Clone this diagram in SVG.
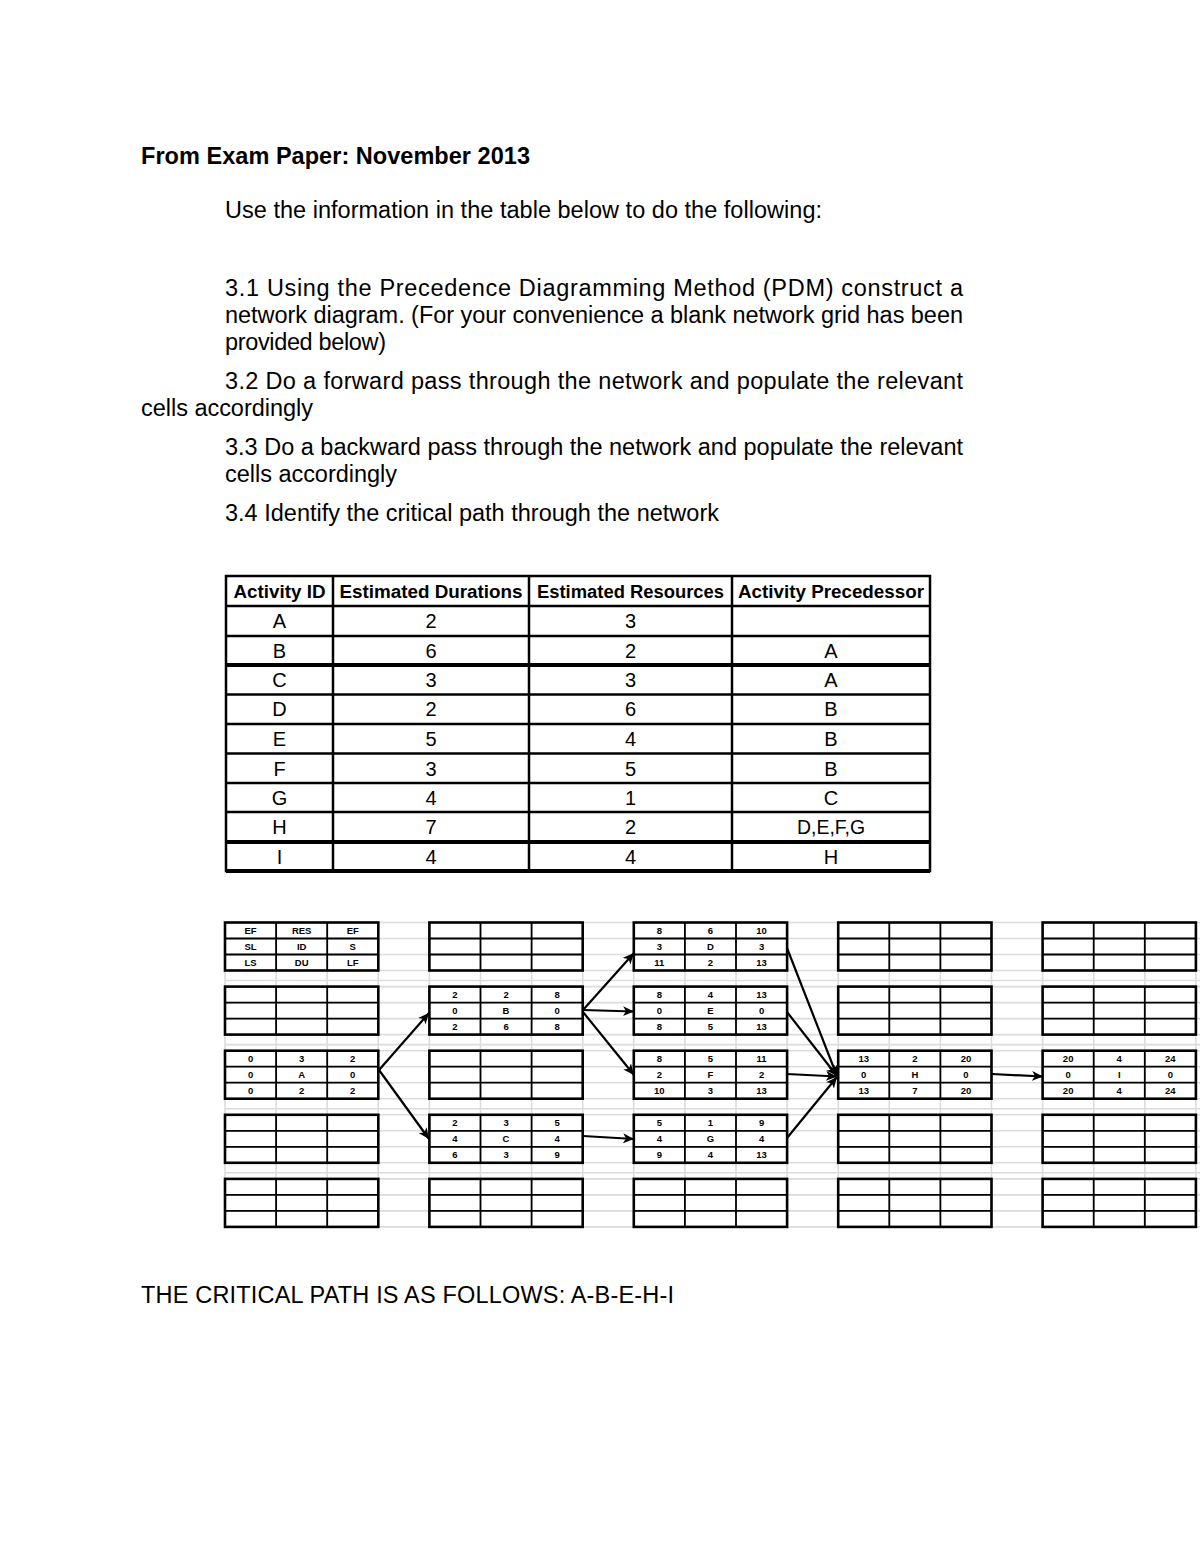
<svg xmlns="http://www.w3.org/2000/svg" xmlns:xlink="http://www.w3.org/1999/xlink" width="1200" height="1553" viewBox="0 0 1200 1553">
<style>
.t{font-family:"Liberation Sans",Arial,sans-serif;font-size:23.5px;fill:#000}
.tb{font-weight:bold}
.th{font-family:"Liberation Sans",Arial,sans-serif;font-size:18px;font-weight:bold;text-anchor:middle;fill:#000}
.td{font-family:"Liberation Sans",Arial,sans-serif;font-size:20px;text-anchor:middle;fill:#000}
.tl{stroke:#000;stroke-width:2.5;fill:none}
.tl2{stroke:#000;stroke-width:4;fill:none}
.bo{fill:none;stroke:#000;stroke-width:2.6}
.bi{fill:none;stroke:#000;stroke-width:1.8}
.grid{stroke:#dcdcdc;stroke-width:1.6;fill:none}
.c{font-family:"Liberation Sans",Arial,sans-serif;font-size:9.5px;font-weight:bold;text-anchor:middle;fill:#000}
.cn{stroke:#000;stroke-width:2.2;fill:none;marker-end:url(#ah)}
</style>
<defs>
<marker id="ah" markerUnits="userSpaceOnUse" markerWidth="12" markerHeight="10" refX="11" refY="5" orient="auto">
<path d="M0,0 L11,5 L0,10 L3,5 z" fill="#000"/>
</marker>
<g id="box">
<rect x="0" y="0" width="153.3" height="48" class="bo"/>
<path d="M51.1,0V48M102.2,0V48M0,16H153.3M0,32H153.3" class="bi"/>
</g>
</defs>
<rect width="1200" height="1553" fill="#fff"/>

<g id="intro">
<text class="t tb" x="141" y="164" textLength="389">From Exam Paper: November 2013</text>
<text class="t" x="225" y="218" textLength="597">Use the information in the table below to do the following:</text>
<text class="t" x="225" y="296" textLength="738">3.1 Using the Precedence Diagramming Method (PDM) construct a</text>
<text class="t" x="225" y="323" textLength="738">network diagram. (For your convenience a blank network grid has been</text>
<text class="t" x="225" y="350" textLength="161">provided below)</text>
<text class="t" x="225" y="389" textLength="738">3.2 Do a forward pass through the network and populate the relevant</text>
<text class="t" x="141" y="416" textLength="172">cells accordingly</text>
<text class="t" x="225" y="455" textLength="738">3.3 Do a backward pass through the network and populate the relevant</text>
<text class="t" x="225" y="482" textLength="172">cells accordingly</text>
<text class="t" x="225" y="521" textLength="494">3.4 Identify the critical path through the network</text>
</g>

<g id="table">
<rect x="226" y="576" width="704" height="295" class="tl"/>
<path class="tl" d="M333,576V871M529,576V871M732,576V871M226,606H930M226,636H930M226,694.5H930M226,724H930M226,753.5H930M226,783H930M226,812H930"/>
<path class="tl2" d="M226,665H930M226,842H930M226,871H930"/>
<text class="th" x="279.5" y="598" textLength="92" lengthAdjust="spacingAndGlyphs">Activity ID</text>
<text class="th" x="431" y="598" textLength="183" lengthAdjust="spacingAndGlyphs">Estimated Durations</text>
<text class="th" x="630.5" y="598" textLength="187" lengthAdjust="spacingAndGlyphs">Estimated Resources</text>
<text class="th" x="831" y="598" textLength="186" lengthAdjust="spacingAndGlyphs">Activity Precedessor</text>
<text class="td" x="279.5" y="628">A</text><text class="td" x="431" y="628">2</text><text class="td" x="630.5" y="628">3</text>
<text class="td" x="279.5" y="657.5">B</text><text class="td" x="431" y="657.5">6</text><text class="td" x="630.5" y="657.5">2</text><text class="td" x="831" y="657.5">A</text>
<text class="td" x="279.5" y="687">C</text><text class="td" x="431" y="687">3</text><text class="td" x="630.5" y="687">3</text><text class="td" x="831" y="687">A</text>
<text class="td" x="279.5" y="716">D</text><text class="td" x="431" y="716">2</text><text class="td" x="630.5" y="716">6</text><text class="td" x="831" y="716">B</text>
<text class="td" x="279.5" y="746">E</text><text class="td" x="431" y="746">5</text><text class="td" x="630.5" y="746">4</text><text class="td" x="831" y="746">B</text>
<text class="td" x="279.5" y="775.5">F</text><text class="td" x="431" y="775.5">3</text><text class="td" x="630.5" y="775.5">5</text><text class="td" x="831" y="775.5">B</text>
<text class="td" x="279.5" y="805">G</text><text class="td" x="431" y="805">4</text><text class="td" x="630.5" y="805">1</text><text class="td" x="831" y="805">C</text>
<text class="td" x="279.5" y="834">H</text><text class="td" x="431" y="834">7</text><text class="td" x="630.5" y="834">2</text><text class="td" x="831" y="834" textLength="68" lengthAdjust="spacingAndGlyphs">D,E,F,G</text>
<text class="td" x="279.5" y="863.5">I</text><text class="td" x="431" y="863.5">4</text><text class="td" x="630.5" y="863.5">4</text><text class="td" x="831" y="863.5">H</text>
</g>

<g id="gridlines">
<path class="grid" d="M225,922.5H1200M225,938.5H1200M225,954.5H1200M225,970.5H1200M225,980.5H1200
M225,986.6H1200M225,1002.6H1200M225,1018.6H1200M225,1034.6H1200M225,1044.6H1200
M225,1050.7H1200M225,1066.7H1200M225,1082.7H1200M225,1098.7H1200M225,1108.7H1200
M225,1114.8H1200M225,1130.8H1200M225,1146.8H1200M225,1162.8H1200M225,1172.8H1200
M225,1178.9H1200M225,1194.9H1200M225,1210.9H1200M225,1226.9H1200
M225,922.5V1227M276.1,922.5V1227M327.2,922.5V1227M378.3,922.5V1227M429.4,922.5V1227M480.5,922.5V1227M531.6,922.5V1227M582.7,922.5V1227M633.8,922.5V1227M684.9,922.5V1227M736,922.5V1227M787.1,922.5V1227M838.2,922.5V1227M889.3,922.5V1227M940.4,922.5V1227M991.5,922.5V1227M1042.6,922.5V1227M1093.7,922.5V1227M1144.8,922.5V1227M1195.9,922.5V1227"/>
</g>

<g id="empty-boxes">
<use xlink:href="#box" href="#box" x="225" y="986.6"/>
<use xlink:href="#box" href="#box" x="225" y="1114.8"/>
<use xlink:href="#box" href="#box" x="225" y="1178.9"/>
<use xlink:href="#box" href="#box" x="429.4" y="922.5"/>
<use xlink:href="#box" href="#box" x="429.4" y="1050.7"/>
<use xlink:href="#box" href="#box" x="429.4" y="1178.9"/>
<use xlink:href="#box" href="#box" x="633.8" y="1178.9"/>
<use xlink:href="#box" href="#box" x="838.2" y="922.5"/>
<use xlink:href="#box" href="#box" x="838.2" y="986.6"/>
<use xlink:href="#box" href="#box" x="838.2" y="1114.8"/>
<use xlink:href="#box" href="#box" x="838.2" y="1178.9"/>
<use xlink:href="#box" href="#box" x="1042.6" y="922.5"/>
<use xlink:href="#box" href="#box" x="1042.6" y="986.6"/>
<use xlink:href="#box" href="#box" x="1042.6" y="1114.8"/>
<use xlink:href="#box" href="#box" x="1042.6" y="1178.9"/>
</g>

<g id="legend" transform="translate(225,922.5)">
<use xlink:href="#box" href="#box"/>
<text class="c" x="25.55" y="11.5">EF</text><text class="c" x="76.65" y="11.5">RES</text><text class="c" x="127.75" y="11.5">EF</text>
<text class="c" x="25.55" y="27.5">SL</text><text class="c" x="76.65" y="27.5">ID</text><text class="c" x="127.75" y="27.5">S</text>
<text class="c" x="25.55" y="43.5">LS</text><text class="c" x="76.65" y="43.5">DU</text><text class="c" x="127.75" y="43.5">LF</text>
</g>

<g id="node-A" transform="translate(225,1050.7)">
<use xlink:href="#box" href="#box"/>
<text class="c" x="25.55" y="11.5">0</text><text class="c" x="76.65" y="11.5">3</text><text class="c" x="127.75" y="11.5">2</text>
<text class="c" x="25.55" y="27.5">0</text><text class="c" x="76.65" y="27.5">A</text><text class="c" x="127.75" y="27.5">0</text>
<text class="c" x="25.55" y="43.5">0</text><text class="c" x="76.65" y="43.5">2</text><text class="c" x="127.75" y="43.5">2</text>
</g>

<g id="node-B" transform="translate(429.4,986.6)">
<use xlink:href="#box" href="#box"/>
<text class="c" x="25.55" y="11.5">2</text><text class="c" x="76.65" y="11.5">2</text><text class="c" x="127.75" y="11.5">8</text>
<text class="c" x="25.55" y="27.5">0</text><text class="c" x="76.65" y="27.5">B</text><text class="c" x="127.75" y="27.5">0</text>
<text class="c" x="25.55" y="43.5">2</text><text class="c" x="76.65" y="43.5">6</text><text class="c" x="127.75" y="43.5">8</text>
</g>

<g id="node-C" transform="translate(429.4,1114.8)">
<use xlink:href="#box" href="#box"/>
<text class="c" x="25.55" y="11.5">2</text><text class="c" x="76.65" y="11.5">3</text><text class="c" x="127.75" y="11.5">5</text>
<text class="c" x="25.55" y="27.5">4</text><text class="c" x="76.65" y="27.5">C</text><text class="c" x="127.75" y="27.5">4</text>
<text class="c" x="25.55" y="43.5">6</text><text class="c" x="76.65" y="43.5">3</text><text class="c" x="127.75" y="43.5">9</text>
</g>

<g id="node-D" transform="translate(633.8,922.5)">
<use xlink:href="#box" href="#box"/>
<text class="c" x="25.55" y="11.5">8</text><text class="c" x="76.65" y="11.5">6</text><text class="c" x="127.75" y="11.5">10</text>
<text class="c" x="25.55" y="27.5">3</text><text class="c" x="76.65" y="27.5">D</text><text class="c" x="127.75" y="27.5">3</text>
<text class="c" x="25.55" y="43.5">11</text><text class="c" x="76.65" y="43.5">2</text><text class="c" x="127.75" y="43.5">13</text>
</g>

<g id="node-E" transform="translate(633.8,986.6)">
<use xlink:href="#box" href="#box"/>
<text class="c" x="25.55" y="11.5">8</text><text class="c" x="76.65" y="11.5">4</text><text class="c" x="127.75" y="11.5">13</text>
<text class="c" x="25.55" y="27.5">0</text><text class="c" x="76.65" y="27.5">E</text><text class="c" x="127.75" y="27.5">0</text>
<text class="c" x="25.55" y="43.5">8</text><text class="c" x="76.65" y="43.5">5</text><text class="c" x="127.75" y="43.5">13</text>
</g>

<g id="node-F" transform="translate(633.8,1050.7)">
<use xlink:href="#box" href="#box"/>
<text class="c" x="25.55" y="11.5">8</text><text class="c" x="76.65" y="11.5">5</text><text class="c" x="127.75" y="11.5">11</text>
<text class="c" x="25.55" y="27.5">2</text><text class="c" x="76.65" y="27.5">F</text><text class="c" x="127.75" y="27.5">2</text>
<text class="c" x="25.55" y="43.5">10</text><text class="c" x="76.65" y="43.5">3</text><text class="c" x="127.75" y="43.5">13</text>
</g>

<g id="node-G" transform="translate(633.8,1114.8)">
<use xlink:href="#box" href="#box"/>
<text class="c" x="25.55" y="11.5">5</text><text class="c" x="76.65" y="11.5">1</text><text class="c" x="127.75" y="11.5">9</text>
<text class="c" x="25.55" y="27.5">4</text><text class="c" x="76.65" y="27.5">G</text><text class="c" x="127.75" y="27.5">4</text>
<text class="c" x="25.55" y="43.5">9</text><text class="c" x="76.65" y="43.5">4</text><text class="c" x="127.75" y="43.5">13</text>
</g>

<g id="node-H" transform="translate(838.2,1050.7)">
<use xlink:href="#box" href="#box"/>
<text class="c" x="25.55" y="11.5">13</text><text class="c" x="76.65" y="11.5">2</text><text class="c" x="127.75" y="11.5">20</text>
<text class="c" x="25.55" y="27.5">0</text><text class="c" x="76.65" y="27.5">H</text><text class="c" x="127.75" y="27.5">0</text>
<text class="c" x="25.55" y="43.5">13</text><text class="c" x="76.65" y="43.5">7</text><text class="c" x="127.75" y="43.5">20</text>
</g>

<g id="node-I" transform="translate(1042.6,1050.7)">
<use xlink:href="#box" href="#box"/>
<text class="c" x="25.55" y="11.5">20</text><text class="c" x="76.65" y="11.5">4</text><text class="c" x="127.75" y="11.5">24</text>
<text class="c" x="25.55" y="27.5">0</text><text class="c" x="76.65" y="27.5">I</text><text class="c" x="127.75" y="27.5">0</text>
<text class="c" x="25.55" y="43.5">20</text><text class="c" x="76.65" y="43.5">4</text><text class="c" x="127.75" y="43.5">24</text>
</g>

<g id="connectors">
<path class="cn" d="M379,1070 L429,1013"/>
<path class="cn" d="M379,1070 L429,1139"/>
<path class="cn" d="M583,1010 L634,953"/>
<path class="cn" d="M583,1010 L634,1011.5"/>
<path class="cn" d="M583,1012 L634,1075"/>
<path class="cn" d="M583,1136 L634,1139"/>
<path class="cn" d="M787,948 L837,1076"/>
<path class="cn" d="M787,1012 L837,1076"/>
<path class="cn" d="M787,1074 L837,1076.5"/>
<path class="cn" d="M787,1138 L837,1077"/>
<path class="cn" d="M992,1074 L1043,1076.5"/>
</g>

<g id="answer">
<text class="t" x="141" y="1303" textLength="533">THE CRITICAL PATH IS AS FOLLOWS: A-B-E-H-I</text>
</g>
</svg>
